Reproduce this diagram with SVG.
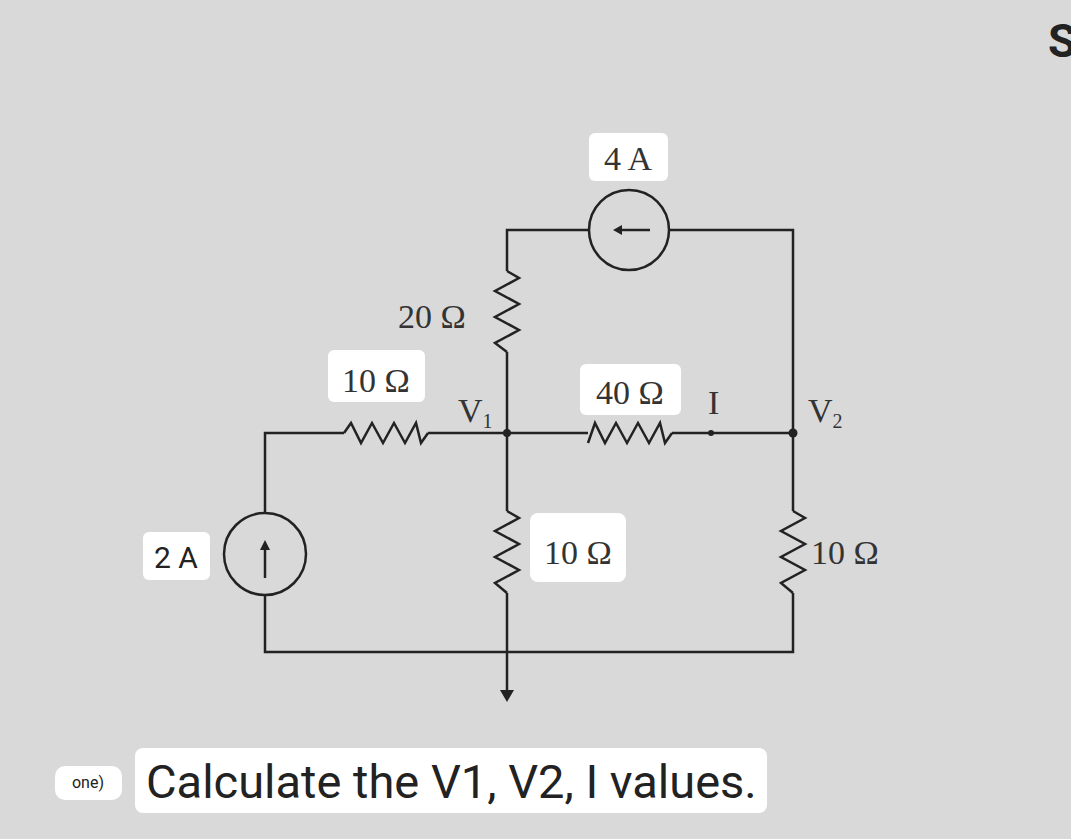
<svg xmlns="http://www.w3.org/2000/svg" width="1071" height="839" viewBox="0 0 1071 839">
<style>
.w{fill:none;stroke:#222;stroke-width:2.5;stroke-linejoin:miter}
.lb{fill:#fff}
.s{font-family:"Liberation Serif",serif;font-size:34px;fill:#333}
.a{font-family:"Roboto","Liberation Sans",sans-serif;fill:#222}
</style>
<rect width="1071" height="839" fill="#d9d9d9"/>
<g id="connectors">
<path class="w" d="M265,513 V433 H344 M428,433 H507 V352 M507,271 V230 H589 M669,230 H793 V433 M507,433 H588 M672,433 H793 M507,433 V511 M507,593 V695 M793,433 V511 M793,593 V652 H265 V595"/>
<path d="M500,690 L507,702 L514,690 Z" fill="#222"/>
</g>
<g id="r20"><path class="w" d="M507,271 L519,278 L495,291 L519,304 L495,317 L519,330 L495,343 L507,352"/></g>
<g id="r10a"><path class="w" d="M344,433 L351,423 L361,443 L372,423 L383,443 L394,423 L405,443 L416,423 L421,443 L428,433"/></g>
<g id="r40"><path class="w" d="M588,443 L595,423 L605,443 L616,423 L627,443 L638,423 L649,443 L660,423 L665,443 L672,433"/></g>
<g id="r10b"><path class="w" d="M507,511 L519,518 L495,531 L519,544 L495,557 L519,570 L495,583 L507,593"/></g>
<g id="r10c"><path class="w" d="M793,511 L805,518 L781,531 L805,544 L781,557 L805,570 L781,583 L793,593"/></g>
<g id="src4"><circle cx="629" cy="230" r="40" fill="none" stroke="#222" stroke-width="2.5"/><path d="M650,230 H620" stroke="#222" stroke-width="2.5"/><path d="M613,230 L622,225 L622,235 Z" fill="#222"/></g>
<g id="src2"><circle cx="265" cy="554" r="41" fill="none" stroke="#222" stroke-width="2.5"/><path d="M265,578 V548" stroke="#222" stroke-width="2.5"/><path d="M265,540 L260,550 L270,550 Z" fill="#222"/></g>
<g id="nodes"><circle cx="507" cy="433" r="4" fill="#222"/><circle cx="793" cy="433" r="4.5" fill="#222"/><circle cx="711" cy="433" r="3" fill="#222"/></g>
<g id="labels">
<rect class="lb" x="589" y="133" width="79" height="48" rx="6"/><text class="s" x="628" y="170" text-anchor="middle">4 A</text>
<text class="s" x="432" y="328" text-anchor="middle">20 Ω</text>
<rect class="lb" x="328" y="350" width="97" height="52" rx="6"/><text class="s" x="376" y="392" text-anchor="middle">10 Ω</text>
<text class="s" x="458" y="422">V<tspan font-size="20" dy="6">1</tspan></text>
<rect class="lb" x="580" y="364" width="101" height="51" rx="6"/><text class="s" x="630" y="404" text-anchor="middle">40 Ω</text>
<text class="s" x="708" y="414">I</text>
<text class="s" x="808" y="422">V<tspan font-size="20" dy="6">2</tspan></text>
<rect class="lb" x="530" y="513" width="96" height="69" rx="8"/><text class="s" x="578" y="564" text-anchor="middle">10 Ω</text>
<text class="s" x="845" y="564" text-anchor="middle">10 Ω</text>
<rect class="lb" x="143" y="532" width="67" height="48" rx="6"/><text class="a" x="176" y="568" font-size="30" text-anchor="middle">2 A</text>
<rect class="lb" x="135" y="748" width="632" height="65" rx="8"/><text class="a" x="146" y="798" font-size="47">Calculate the V1, V2, I values.</text>
<rect class="lb" x="55" y="766" width="67" height="34" rx="10"/><text class="a" x="88" y="788" font-size="16" text-anchor="middle">one)</text>
<text class="a" x="1048" y="57" font-size="46" font-weight="bold">S</text>
</g>
</svg>
